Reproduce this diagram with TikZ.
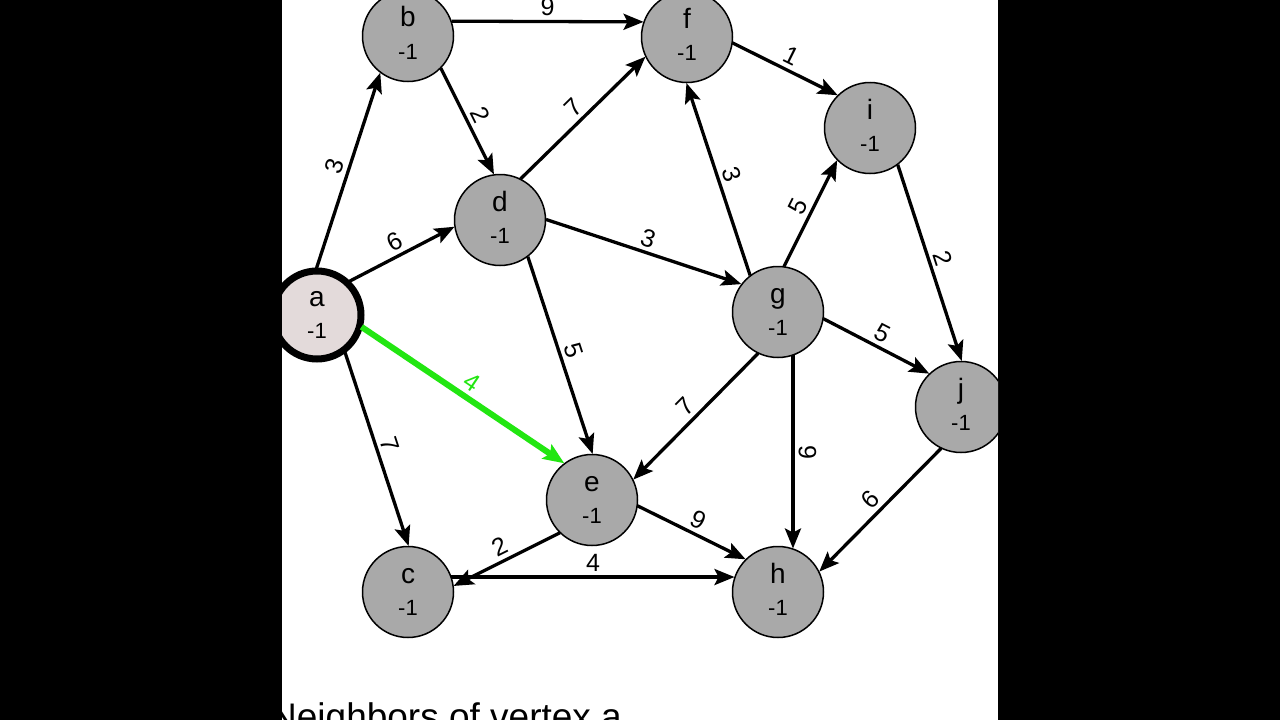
\documentclass[tikz,border=0pt]{standalone}
\usepackage{fontspec}
\setmainfont{Liberation Sans}
\usetikzlibrary{calc,arrows.meta}
\definecolor{vgray}{RGB}{169,169,169}
\definecolor{vpink}{RGB}{227,218,218}
\definecolor{grn}{RGB}{34,230,17}
\newcommand\vtxnode[4]{%
  \node[vnode,#4] (#1) at (#2,#3) {};
  \node[vletter] (#1L) at (#2,#3-9) {#1};
  \node[vnum] (#1N) at (#2,#3+23) {-1};
}
\newcommand\edg[4][]{%
  \draw[edge,#1] ($(#2)!46pt!19:(#3)$) -- node[lab]{#4} ($(#3)!46pt!-19:(#2)$);
}
\begin{document}
\begin{tikzpicture}[x=1pt,y=-1pt,
  vnode/.style={circle,draw=black,line width=1.5pt,fill=vgray,minimum size=91pt,inner sep=0pt},
  startnode/.style={fill=vpink,line width=7pt,minimum size=88pt},
  vletter/.style={anchor=base,inner sep=0pt,font=\fontsize{28}{28}\selectfont},
  vnum/.style={anchor=base,inner sep=0pt,font=\fontsize{22}{22}\selectfont},
  edge/.style={color=black,line width=3.3pt,-{Stealth[length=20pt,width=16pt,inset=4pt]}},
  hedge/.style={color=grn,line width=6pt,-{Stealth[length=21pt,width=17pt,inset=4pt]}},
  lab/.style={midway,sloped,above=3pt,inner sep=1pt,font=\fontsize{25}{25}\selectfont},
  caption/.style={anchor=base west,inner sep=0pt,font=\fontsize{37}{37}\selectfont}]
\useasboundingbox (0,0) rectangle (1280,720);
\fill[black] (0,0) rectangle (1280,720);
\begin{scope}
\clip (282,0) rectangle (998,720);
\fill[white] (282,0) rectangle (998,720);
\vtxnode{a}{317}{315}{startnode}
\vtxnode{b}{408}{36}{}
\vtxnode{f}{687}{37}{}
\vtxnode{i}{870}{128}{}
\vtxnode{d}{500}{220}{}
\vtxnode{g}{778}{312}{}
\vtxnode{j}{961}{407}{}
\vtxnode{e}{592}{500}{}
\vtxnode{c}{408}{592}{}
\vtxnode{h}{778}{592}{}
\edg{a}{b}{3}
\edg{a}{d}{6}
\edg{a}{c}{7}
\edg{b}{f}{9}
\edg{b}{d}{2}
\edg{d}{f}{7}
\edg{d}{g}{3}
\edg{d}{e}{5}
\edg{f}{i}{1}
\edg{g}{f}{3}
\edg{g}{i}{5}
\edg{g}{j}{5}
\edg{g}{e}{7}
\edg{g}{h}{9}
\edg{i}{j}{2}
\edg{j}{h}{6}
\edg{e}{c}{2}
\edg{e}{h}{9}
\edg{c}{h}{4}
\edg[hedge]{a}{e}{4}
\node[caption] (cap) at (270,729) {Neighbors of vertex a};
\end{scope}
\end{tikzpicture}
\end{document}
